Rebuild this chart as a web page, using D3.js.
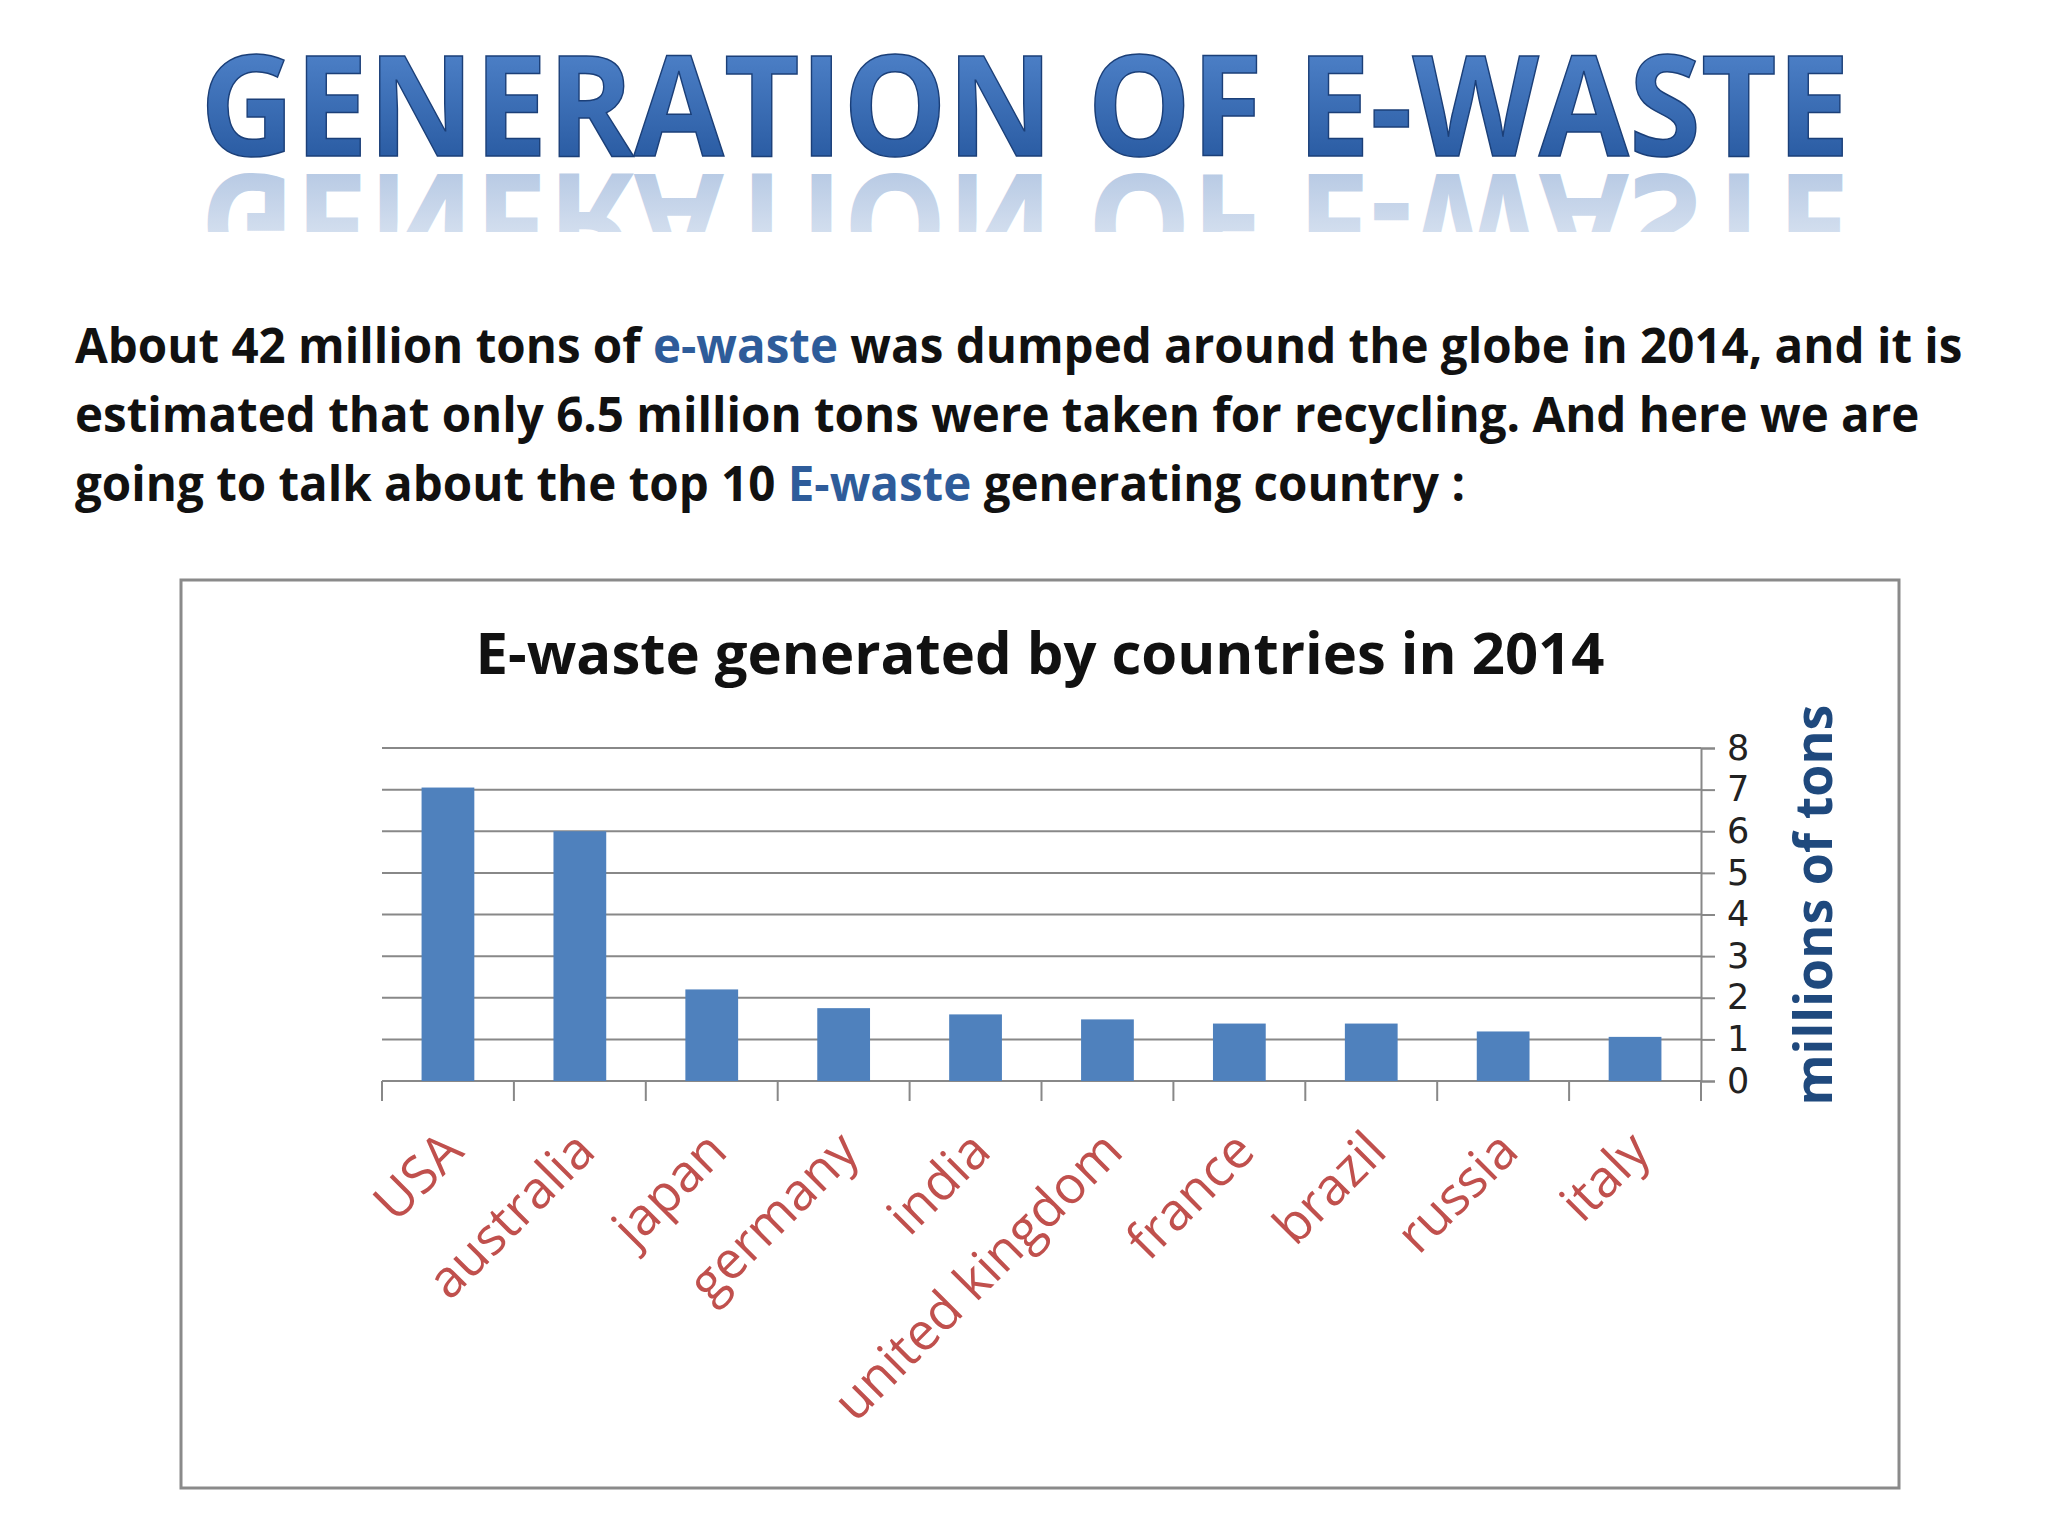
<!DOCTYPE html>
<html><head><meta charset="utf-8">
<script src="https://cdn.jsdelivr.net/npm/d3@7"></script>
<style>body{margin:0;background:#fff}</style></head>
<body><svg id="c" width="2048" height="1536"></svg>
<script>
const categories = ["USA","australia","japan","germany","india","united kingdom","france","brazil","russia","italy"];
const values = [7.05,6.0,2.2,1.75,1.6,1.48,1.38,1.38,1.19,1.06];
const yTicks = [0,1,2,3,4,5,6,7,8];

const svg = d3.select("#c");
const defs = svg.append("defs");
const g1 = defs.append("linearGradient").attr("id","tg").attr("x1",0).attr("y1",0).attr("x2",0).attr("y2",1);
g1.append("stop").attr("offset","0%").attr("stop-color","#5b8fd6");
g1.append("stop").attr("offset","100%").attr("stop-color","#1e4f96");
const g2 = defs.append("linearGradient").attr("id","rg").attr("x1",0).attr("y1",0).attr("x2",0).attr("y2",1);
g2.append("stop").attr("offset","0%").attr("stop-color","#3a6db5").attr("stop-opacity",0.02);
g2.append("stop").attr("offset","100%").attr("stop-color","#3a6db5").attr("stop-opacity",0.45);

const titleFont = "'Open Sans', sans-serif";
svg.append("text").attr("x",1025).attr("y",156).attr("text-anchor","middle")
  .attr("font-family",titleFont).attr("font-weight",700).attr("font-size",140)
  .attr("textLength",1650).attr("lengthAdjust","spacingAndGlyphs")
  .attr("fill","url(#tg)").attr("stroke","#1b3f78").attr("stroke-width",1.5)
  .text("GENERATION OF E-WASTE");
svg.append("g").attr("transform","translate(0,326) scale(1,-1)").append("path")
  .attr("d","M0,0"); // placeholder group
svg.append("text").attr("transform","translate(0,330) scale(1,-1)")
  .attr("x",1025).attr("y",156).attr("text-anchor","middle")
  .attr("font-family",titleFont).attr("font-weight",700).attr("font-size",140)
  .attr("textLength",1650).attr("lengthAdjust","spacingAndGlyphs")
  .attr("fill","url(#rg)").attr("aria-hidden","true")
  .text("GENERATION OF E-WASTE");
svg.append("rect").attr("x",0).attr("y",158).attr("width",2048).attr("height",10).attr("fill","#fff");
svg.append("rect").attr("x",0).attr("y",232).attr("width",2048).attr("height",60).attr("fill","#fff");

const para = [
  [["About 42 million tons of ",0],["e-waste",1],[" was dumped around the globe in 2014, and it is",0]],
  [["estimated that only 6.5 million tons were taken for recycling. And here we are",0]],
  [["going to talk about the top 10 ",0],["E-waste",1],[" generating country ",0],[":",0]]
];
para.forEach((line,i)=>{
  const t = svg.append("text").attr("x",75).attr("y",363+i*69)
    .attr("font-family","'Open Sans', sans-serif").attr("font-weight",700).attr("font-size",47.5).attr("fill","#111");
  line.forEach(([s,h])=>t.append("tspan").attr("fill",h?"#2e5c9a":"#111").text(s));
});

svg.append("rect").attr("x",181).attr("y",580).attr("width",1718).attr("height",908)
  .attr("fill","#fff").attr("stroke","#8a8a8a").attr("stroke-width",3);
svg.append("text").attr("x",1040).attr("y",674).attr("text-anchor","middle")
  .attr("font-family","'Open Sans', sans-serif").attr("font-weight",700).attr("font-size",58).attr("fill","#111")
  .text("E-waste generated by countries in 2014");

const x = d3.scaleBand().domain(categories).range([382,1701]).paddingInner(0.6).paddingOuter(0.3);
const y = d3.scaleLinear().domain([0,8]).range([1081,748]);

const gy = svg.append("g").attr("transform","translate(1701,0)")
  .call(d3.axisRight(y).tickValues(yTicks).tickSize(14).tickPadding(12).tickFormat(d3.format("d")));
gy.select(".domain").attr("stroke","#888").attr("stroke-width",2);
gy.selectAll(".tick line").attr("stroke","#888").attr("stroke-width",2);
gy.selectAll(".tick text").attr("font-family","'DejaVu Sans', sans-serif").attr("font-size",35).attr("fill","#222");

svg.append("g").selectAll("line").data(yTicks).join("line")
  .attr("x1",382).attr("x2",1701).attr("y1",d=>y(d)).attr("y2",d=>y(d))
  .attr("stroke","#888").attr("stroke-width",2);

const bounds = d3.range(categories.length+1).map(i=>382 + i*(1701-382)/categories.length);
svg.append("g").selectAll("line").data(bounds).join("line")
  .attr("x1",d=>d).attr("x2",d=>d).attr("y1",1081).attr("y2",1101).attr("stroke","#888").attr("stroke-width",2);

svg.append("g").selectAll("rect").data(values).join("rect")
  .attr("x",(d,i)=>x(categories[i])).attr("width",x.bandwidth())
  .attr("y",d=>y(d)).attr("height",d=>y(0)-y(d)).attr("fill","#4f81bd");

svg.append("g").selectAll("text").data(categories).join("text")
  .attr("transform",d=>`translate(${x(d)+x.bandwidth()/2-8},1128) rotate(-45)`)
  .attr("text-anchor","end").attr("dy","0.7em")
  .attr("font-family","'Open Sans', sans-serif").attr("font-size",52).attr("fill","#c0504d")
  .text(d=>d);

svg.append("text").attr("transform","translate(1832,905) rotate(-90)").attr("text-anchor","middle")
  .attr("font-family","'Open Sans', sans-serif").attr("font-weight",700).attr("font-size",52).attr("fill","#1f497d")
  .text("millions of tons");
</script></body></html>
